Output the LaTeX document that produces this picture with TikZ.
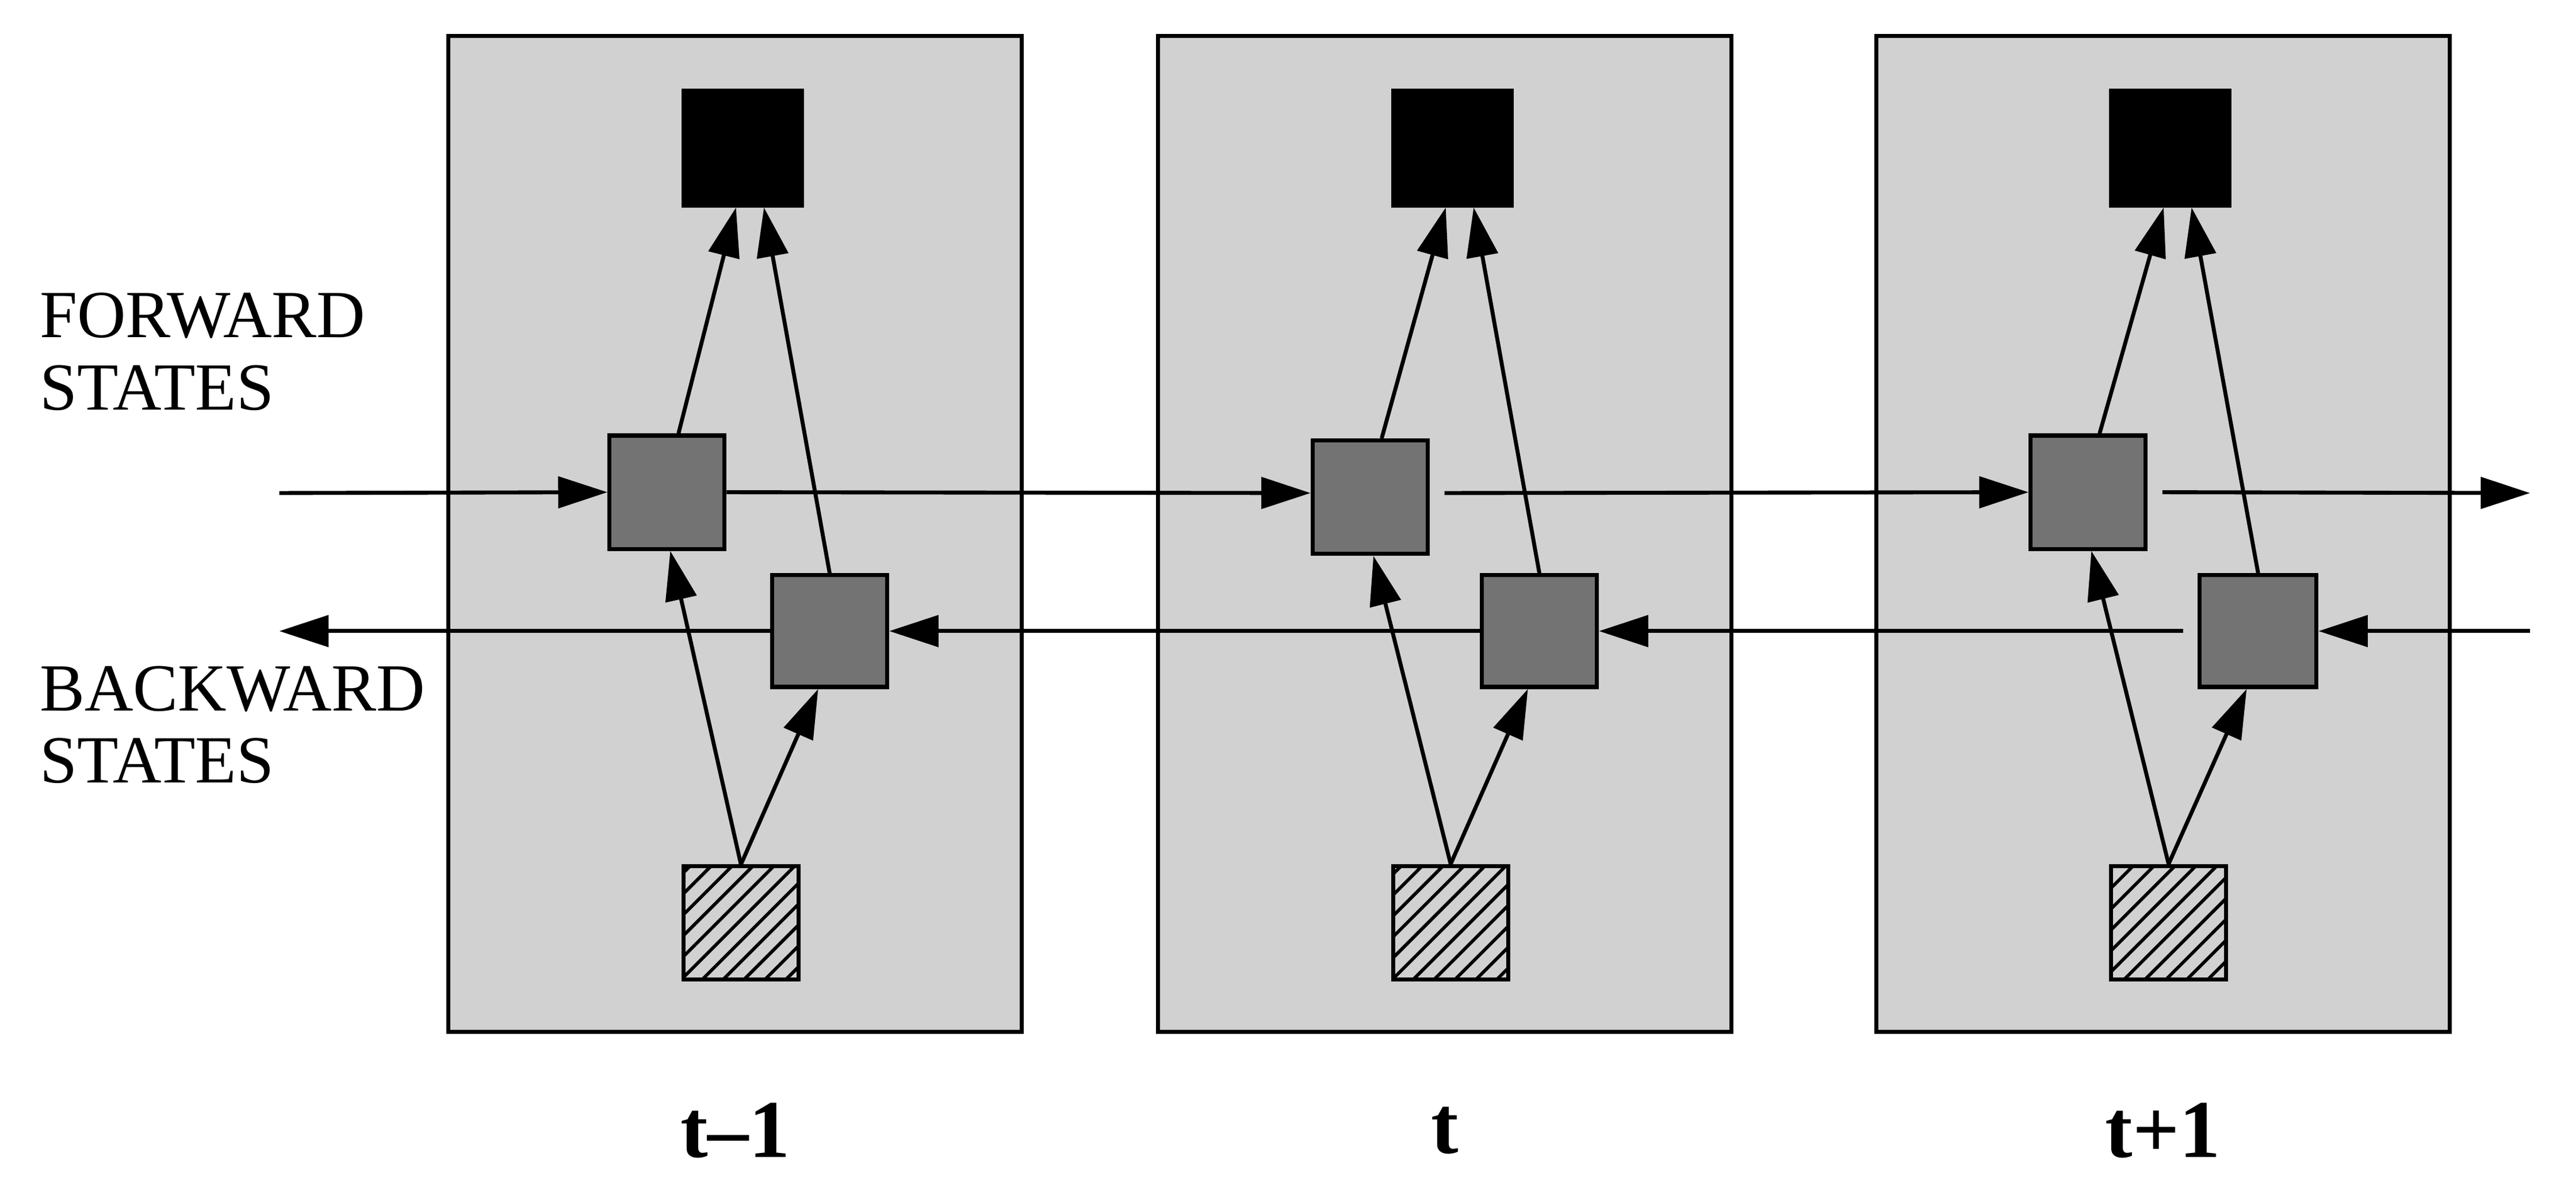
\documentclass[tikz,border=0pt]{standalone}
\usepackage{fontspec}
\setmainfont{Liberation Serif}
\usetikzlibrary{arrows.meta,patterns.meta}
\begin{document}
\begin{tikzpicture}[x=1pt,y=-1pt,
  panel/.style={draw,line width=2.5pt,fill=black!18},
  outb/.style={draw,line width=2.5pt,fill=black},
  hid/.style={draw,line width=2.5pt,fill=black!55},
  inb/.style={draw,line width=2.5pt,fill=white,pattern={Lines[angle=45,distance=9pt,line width=2pt]}},
  con/.style={line width=2.4pt,-{Triangle[length=30pt,width=19pt]}},
  lab/.style={font=\fontsize{41}{44}\selectfont,align=left,anchor=west,inner sep=0pt},
  tl/.style={font=\bfseries\fontsize{50}{52}\selectfont}]
\useasboundingbox (0,0) rectangle (1568,718);
\foreach \n/\dx in {1/0,2/432,3/869}{
  \node[panel,minimum width=349pt,minimum height=606pt,inner sep=0] (p\n) at (447.5+\dx,325) {};
  \node[outb,minimum width=72pt,minimum height=70pt,inner sep=0] (o\n) at (452+\dx,90) {};
  \node[inb,minimum width=70pt,minimum height=69pt,inner sep=0] (i\n) at (451+\dx,561.5) {};
}
\node[hid,minimum width=70pt,minimum height=69pt,inner sep=0] (f1) at (406,299.5) {};
\node[hid,minimum width=70pt,minimum height=69pt,inner sep=0] (f2) at (834,302.5) {};
\node[hid,minimum width=70pt,minimum height=69pt,inner sep=0] (f3) at (1271,299.5) {};
\node[hid,minimum width=70pt,minimum height=68pt,inner sep=0] (b1) at (505,384) {};
\node[hid,minimum width=70pt,minimum height=68pt,inner sep=0] (b2) at (937,384) {};
\node[hid,minimum width=71pt,minimum height=68pt,inner sep=0] (b3) at (1374.5,384) {};
\foreach \n in {1,2,3}{
  \draw[con] (i\n.north) -- ([xshift=2pt]f\n.south);
  \draw[con] (i\n.north) -- ([xshift=-7pt]b\n.south);
  \draw[con] ([xshift=7pt]f\n.north) -- ([xshift=-4pt]o\n.south);
  \draw[con] (b\n.north) -- ([xshift=13pt]o\n.south);
}
\coordinate (fin) at (170,300);
\coordinate (fout) at (1540,300);
\coordinate (bin) at (1540,384);
\coordinate (bout) at (170,384);
\draw[con] (fin) -- (f1.west);
\draw[con] (f1.east) -- (f2.west |- 0,300);
\draw[con] ([xshift=9pt]f2.east |- 0,300) -- (f3.west);
\draw[con] ([xshift=9pt]f3.east) -- (fout);
\draw[con] (bin) -- (b3.east);
\draw[con] ([xshift=-9pt]b3.west) -- (b2.east);
\draw[con] (b2.west) -- (b1.east);
\draw[con] (b1.west) -- (bout);
\node[lab] at (24,214) {FORWARD\\STATES};
\node[lab] at (24,441) {BACKWARD\\STATES};
\node[tl] at (p1.south |- 0,688) {t--1};
\node[tl] at (p2.south |- 0,688) {t};
\node[tl] at (p3.south |- 0,688) {t+1};
\end{tikzpicture}
\end{document}
